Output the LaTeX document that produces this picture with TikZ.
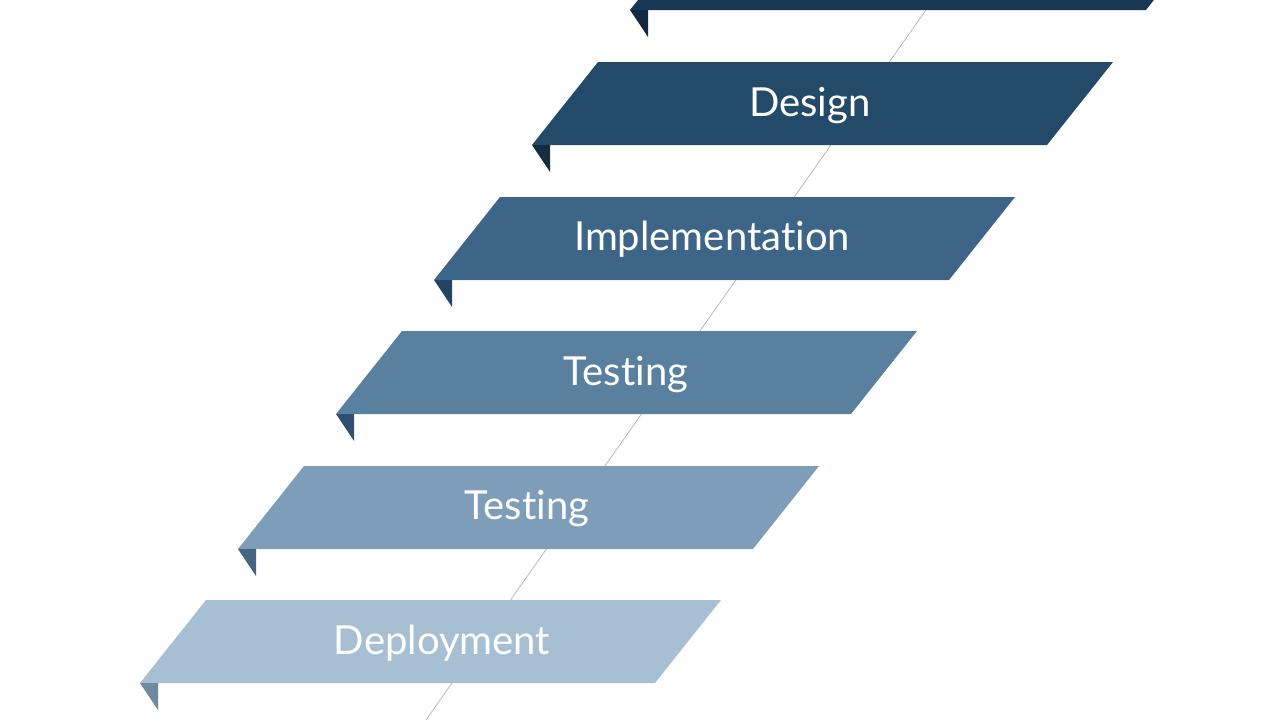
\documentclass[tikz,border=0pt]{standalone}
\usepackage{fontspec}
\setmainfont{Lato}[Ligatures=NoCommon]

\definecolor{bandTop}{HTML}{183754}
\definecolor{bandDesign}{HTML}{244A6A}
\definecolor{bandImpl}{HTML}{3C6587}
\definecolor{bandTestA}{HTML}{5A80A0}
\definecolor{bandTestB}{HTML}{7E9DB8}
\definecolor{bandDeploy}{HTML}{A7BFD3}

\tikzset{
  label/.style={text=white, anchor=base, inner sep=0pt, font=\fontsize{40}{44}\selectfont},
  guide/.style={draw=black!30, line width=0.7pt}
}

\begin{document}
\begin{tikzpicture}[x=1pt,y=-1pt]
  \useasboundingbox (0,0) rectangle (1280,720);

  % thin line behind the steps
  \coordinate (guideTop) at (933,0);
  \coordinate (guideBottom) at (426,720);
  \draw[guide] (guideTop) -- (guideBottom);

  \fill[bandTop] (696,-73) -- (1211,-73) -- (1146,10) -- (630,10) -- cycle;
  \fill[bandTop!75!black] (630,10) -- (648,10) -- (648,37) -- cycle;

  \fill[bandDesign] (598,62) -- (1113,62) -- (1047,145) -- (532,145) -- cycle;
  \fill[bandDesign!60!black] (532,145) -- (550,145) -- (550,172) -- cycle;
  \node[label] (design) at (810,116) {Design};

  \fill[bandImpl] (500,197) -- (1015,197) -- (949,280) -- (434,280) -- cycle;
  \fill[bandImpl!30!bandTop] (434,280) -- (452,280) -- (452,307) -- cycle;
  \node[label] (implementation) at (712,250) {Implementation};

  \fill[bandTestA] (402,331) -- (917,331) -- (851,414) -- (336,414) -- cycle;
  \fill[bandTestA!35!bandTop] (336,414) -- (354,414) -- (354,441) -- cycle;
  \node[label] (testingA) at (626,385) {Testing};

  \fill[bandTestB] (304,466) -- (819,466) -- (753,549) -- (238,549) -- cycle;
  \fill[bandTestB!45!bandTop] (238,549) -- (256,549) -- (256,576) -- cycle;
  \node[label] (testingB) at (527,519) {Testing};

  \fill[bandDeploy] (206,600) -- (721,600) -- (655,683) -- (140,683) -- cycle;
  \fill[bandDeploy!60!bandTop] (140,683) -- (158,683) -- (158,710) -- cycle;
  \node[label] (deployment) at (442,654) {Deployment};

\end{tikzpicture}
\end{document}
